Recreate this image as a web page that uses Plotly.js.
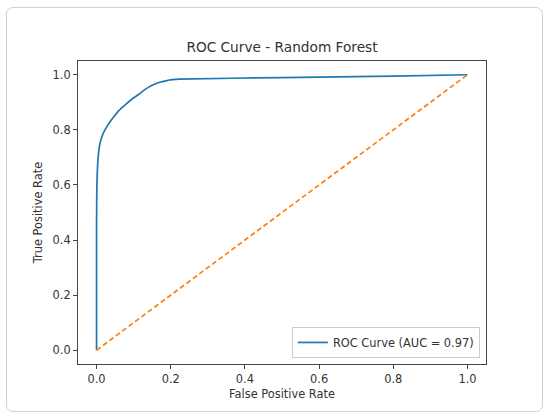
<!DOCTYPE html>
<html>
<head>
<meta charset="utf-8">
<script src="https://cdn.plot.ly/plotly-3.0.1.min.js"></script>
<style>
  html, body { margin: 0; padding: 0; background: #fff; }
  #wrap { position: relative; width: 550px; height: 419px; }
  #card {
    position: absolute; left: 6px; top: 7px; width: 535px; height: 403px;
    border: 1.5px solid #d0d0d0; border-radius: 7px; background: #fff;
  }
  #roc-chart { position: absolute; left: 0; top: 0; width: 550px; height: 419px; }
</style>
</head>
<body>
<div id="wrap">
  <div id="card"></div>
  <div id="roc-chart"></div>
</div>
<script>
// --- data ---
const fpr = [0, 0.0, 0.0005, 0.001, 0.002, 0.003, 0.005, 0.008, 0.012, 0.018, 0.027,
             0.037, 0.048, 0.060, 0.078, 0.096, 0.115, 0.132, 0.150, 0.168, 0.190,
             0.213, 0.222, 0.500, 0.800, 1.0];
const tpr = [0, 0.45, 0.55, 0.60, 0.645, 0.675, 0.71, 0.742, 0.765, 0.787, 0.810,
             0.830, 0.850, 0.870, 0.892, 0.912, 0.930, 0.948, 0.962, 0.972, 0.979,
             0.983, 0.984, 0.990, 0.995, 1.0];
const chanceX = [0, 1];
const chanceY = [0, 1];
const tickVals = [0, 0.2, 0.4, 0.6, 0.8, 1.0];
const aucLabel = "ROC Curve (AUC = 0.97)";

const FONT = "DejaVu Sans, Liberation Sans, sans-serif";
const INK = "#333333";

const traces = [
    {
        x: fpr, y: tpr,
        name: aucLabel, type: "scatter", mode: "lines",
        line: { color: "#1f77b4", width: 1.7, shape: "spline", smoothing: 0.5 }
    },
    {
        x: chanceX, y: chanceY,
        type: "scatter", mode: "lines", showlegend: false,
        line: { color: "#ff7f0e", width: 1.7, dash: "5px,3px" }
    }
];

const axisBase = {
    showline: true, mirror: true, linecolor: "#444", linewidth: 1,
    showgrid: false, zeroline: false,
    ticks: "outside", ticklen: 4, tickwidth: 1, tickcolor: "#444",
    tickvals: tickVals, tickformat: ".1f",
    tickfont: { family: FONT, size: 11.4, color: INK }
};

const layout = {
    width: 550, height: 419,
    margin: { l: 78, r: 64, t: 61, b: 55 },
    paper_bgcolor: "rgba(0,0,0,0)", plot_bgcolor: "#fff",
    title: {
        text: "ROC Curve - Random Forest",
        font: { family: FONT, size: 13.7, color: INK },
        xref: "paper", x: 0.5, xanchor: "center",
        yref: "container", y: 1 - 47 / 419, yanchor: "middle"
    },
    xaxis: Object.assign({}, axisBase, {
        range: [-0.05, 1.05],
        title: { text: "False Positive Rate", font: { family: FONT, size: 11.4, color: INK }, standoff: 5 }
    }),
    yaxis: Object.assign({}, axisBase, {
        range: [-0.05, 1.05],
        title: { text: "True Positive Rate", font: { family: FONT, size: 11.4, color: INK }, standoff: 7 }
    }),
    showlegend: true,
    legend: {
        x: 0.985, y: 0.02, xanchor: "right", yanchor: "bottom",
        bgcolor: "rgba(255,255,255,0.85)", bordercolor: "#cccccc", borderwidth: 1,
        font: { family: FONT, size: 11.4, color: INK }
    }
};

Plotly.newPlot("roc-chart", traces, layout, { displayModeBar: false, staticPlot: true });
</script>
</body>
</html>
